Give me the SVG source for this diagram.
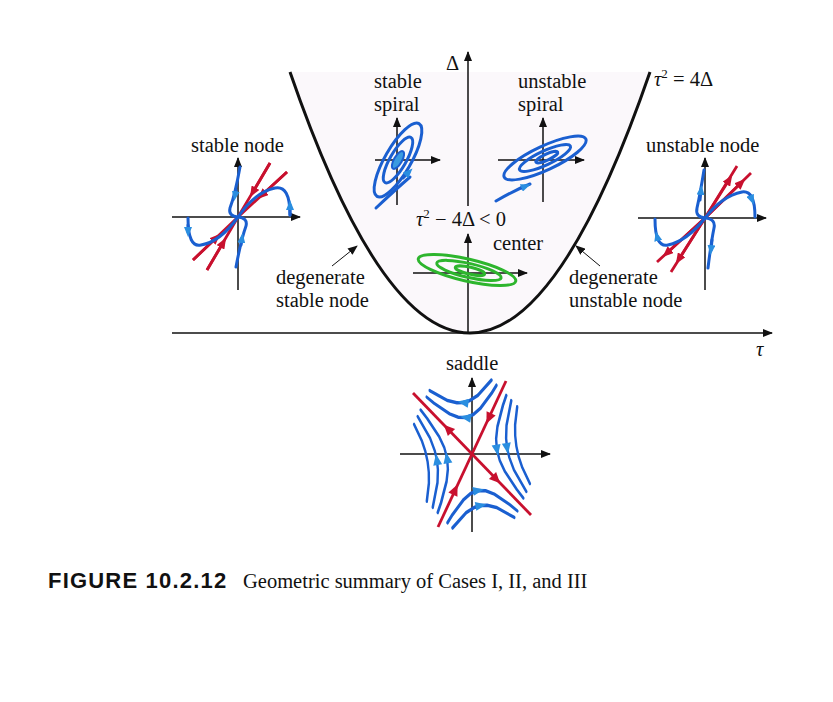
<svg xmlns="http://www.w3.org/2000/svg" width="833" height="702" viewBox="0 0 833 702">
<style>
.t{font-family:"Liberation Serif",serif;font-size:20.5px;fill:#111}
.ax{stroke:#111;stroke-width:1.5;fill:none}
.b{stroke:#1a5fd0;stroke-width:3;fill:none;stroke-linecap:round;stroke-linejoin:round}
.h{stroke:#1a5fd0;stroke-width:3;fill:none;stroke-linecap:round;stroke-linejoin:round;vector-effect:non-scaling-stroke}
.r{stroke:#c8102e;stroke-width:2.8;fill:none}
.g{stroke:#2db52d;stroke-width:3;fill:none}
</style>
<defs>
<marker id="ah" markerWidth="10" markerHeight="8" refX="9" refY="4" orient="auto" markerUnits="userSpaceOnUse"><path d="M0,0 L10,4 L0,8 Z" fill="#111"/></marker>
<marker id="rh" markerWidth="11" markerHeight="9" refX="5" refY="4.5" orient="auto" markerUnits="userSpaceOnUse"><path d="M0,0 L11,4.5 L0,9 Z" fill="#c8102e"/></marker>
<marker id="bh" markerWidth="10" markerHeight="8" refX="5" refY="4" orient="auto" markerUnits="userSpaceOnUse"><path d="M0,0 L10,4 L0,8 Z" fill="#2a8ee0"/></marker>
<path id="h500" d="M7.1,70 L8.3,60 L12.5,40 L16.7,30 L22.4,22.4 L30,16.7 L40,12.5 L60,8.3 L70,7.1"/>
<path id="h1000" d="M14.3,70 L20.8,48 L26.3,38 L31.6,31.6 L38,26.3 L48,20.8 L70,14.3"/>
<path id="h1600" d="M22.9,70 L29,55 L34,47 L40,40 L47,34 L55,29 L70,22.9"/>
<path id="bt" d="M6,0 L-5,-4.5 L-5,4.5 Z" fill="#2a8ee0"/>
<path id="rt" d="M6,0 L-5,-5 L-5,5 Z" fill="#c8102e"/>
</defs>
<rect width="833" height="702" fill="#fff"/>
<g id="plane">
<path d="M290,72 Q470,594 650,72 Z" fill="#fbf8fb"/>
<path d="M290,72 Q470,594 650,72" stroke="#111" stroke-width="3" fill="none"/>
<line class="ax" x1="172" y1="333" x2="772" y2="333" marker-end="url(#ah)"/>
<line class="ax" x1="468" y1="206" x2="468" y2="52" marker-end="url(#ah)"/>
<line class="ax" x1="468" y1="333" x2="468" y2="234" marker-end="url(#ah)"/>
<text class="t" x="446" y="70">Δ</text>
<text class="t" x="756" y="356" font-style="italic">τ</text>
<text class="t" x="654" y="86"><tspan font-style="italic">τ</tspan><tspan font-size="13" dy="-8">2</tspan><tspan dy="8"> = 4Δ</tspan></text>
<text class="t" x="416" y="226"><tspan font-style="italic">τ</tspan><tspan font-size="13" dy="-8">2</tspan><tspan dy="8"> − 4Δ &lt; 0</tspan></text>
</g>
<g id="stable-node">
<text class="t" x="191" y="152">stable node</text>
<line class="ax" x1="172" y1="217" x2="300" y2="217" marker-end="url(#ah)"/>
<line class="ax" x1="238" y1="290" x2="238" y2="158" marker-end="url(#ah)"/>
<path class="r" d="M193,260 L238,217 L287,172" />
<path class="r" d="M207,270 L238,217 L270,163" />
<path class="r" d="M287,172 L262,195" marker-end="url(#rh)"/>
<path class="r" d="M193,260 L216,238" marker-end="url(#rh)"/>
<path class="r" d="M270,163 L253,192" marker-end="url(#rh)"/>
<path class="r" d="M207,270 L223,243" marker-end="url(#rh)"/>
<path class="b" d="M290,215 Q290,185 275,188 Q255,192 238,217"/>
<path class="b" d="M240,167 Q235,195 230,208 Q228,216 238,217"/>
<path class="b" d="M188,218 Q188,248 201,245 Q220,242 238,217"/>
<path class="b" d="M236,267 Q241,240 246,226 Q248,218 238,217"/>
<path class="b" d="M290,215 L290,205" marker-end="url(#bh)"/>
<path class="b" d="M236,190 L235,196" marker-end="url(#bh)"/>
<path class="b" d="M188,225 L188,232" marker-end="url(#bh)"/>
<path class="b" d="M241,245 L242,238" marker-end="url(#bh)"/>
</g>
<g id="unstable-node">
<text class="t" x="646" y="152">unstable node</text>
<line class="ax" x1="638" y1="218" x2="766" y2="218" marker-end="url(#ah)"/>
<line class="ax" x1="705" y1="290" x2="705" y2="158" marker-end="url(#ah)"/>
<path class="r" d="M657,262 L705,218 L751,173"/>
<path class="r" d="M671,272 L705,218 L737,166"/>
<path class="r" d="M705,218 L741,183" marker-end="url(#rh)"/>
<path class="r" d="M705,218 L729,180" marker-end="url(#rh)"/>
<path class="r" d="M705,218 L667,253" marker-end="url(#rh)"/>
<path class="r" d="M705,218 L679,259" marker-end="url(#rh)"/>
<path class="b" d="M755,217 Q755,190 742,192 Q722,196 705,218"/>
<path class="b" d="M704,170 Q700,195 697,208 Q695,217 705,218"/>
<path class="b" d="M655,219 Q655,248 668,245 Q687,241 705,218"/>
<path class="b" d="M708,268 Q711,243 714,228 Q716,219 705,218"/>
<path class="b" d="M750,195 L752,200" marker-end="url(#bh)"/>
<path class="b" d="M700,200 L701,190" marker-end="url(#bh)"/>
<path class="b" d="M658,240 L657,236" marker-end="url(#bh)"/>
<path class="b" d="M712,240 L711,250" marker-end="url(#bh)"/>
</g>
<g id="stable-spiral">
<text class="t" x="374" y="88">stable</text>
<text class="t" x="374" y="111">spiral</text>
<line class="ax" x1="375" y1="160" x2="440" y2="160" marker-end="url(#ah)"/>
<line class="ax" x1="397" y1="205" x2="397" y2="118" marker-end="url(#ah)"/>
<g transform="translate(398,160) rotate(-60)">
<ellipse class="b" cx="0" cy="0" rx="42" ry="13"/>
<ellipse class="b" cx="0" cy="0" rx="26" ry="8"/>
<ellipse cx="0" cy="0" rx="10" ry="4" fill="#3a9be0" stroke="#1a5fd0" stroke-width="2"/>
</g>
<path class="b" d="M376,208 Q395,190 410,177"/>
<path class="b" d="M403,178 L409,172" marker-end="url(#bh)"/>
</g>
<g id="unstable-spiral">
<text class="t" x="518" y="88">unstable</text>
<text class="t" x="518" y="111">spiral</text>
<line class="ax" x1="498" y1="160" x2="584" y2="160" marker-end="url(#ah)"/>
<line class="ax" x1="543" y1="202" x2="543" y2="118" marker-end="url(#ah)"/>
<g transform="translate(545,158) rotate(-25)">
<ellipse class="b" cx="0" cy="0" rx="45" ry="12"/>
<ellipse class="b" cx="0" cy="0" rx="28" ry="7"/>
<ellipse class="b" cx="2" cy="0" rx="12" ry="3"/>
</g>
<path class="b" d="M496,201 Q515,190 530,184"/>
<path class="b" d="M521,188 L526,186" marker-end="url(#bh)"/>
</g>
<g id="center">
<text class="t" x="493" y="250">center</text>
<line class="ax" x1="413" y1="273" x2="527" y2="273" marker-end="url(#ah)"/>
<g transform="translate(467,270) rotate(13)">
<ellipse class="g" cx="0" cy="0" rx="50" ry="11"/>
<ellipse class="g" cx="2" cy="0" rx="33" ry="7"/>
<ellipse class="g" cx="3" cy="0" rx="15" ry="3.5"/>
</g>
</g>
<g id="degenerate-labels">
<text class="t" x="276" y="284">degenerate</text>
<text class="t" x="276" y="307">stable node</text>
<text class="t" x="569" y="284">degenerate</text>
<text class="t" x="569" y="307">unstable node</text>
</g>
<g id="connectors">
<line stroke="#111" stroke-width="1" x1="332" y1="266" x2="357" y2="246" marker-end="url(#ah)"/>
<line stroke="#111" stroke-width="1" x1="600" y1="266" x2="576" y2="246" marker-end="url(#ah)"/>
</g>
<g id="saddle">
<text class="t" x="446" y="370">saddle</text>
<line class="ax" x1="400" y1="454" x2="550" y2="454" marker-end="url(#ah)"/>
<line class="ax" x1="472" y1="532" x2="472" y2="378" marker-end="url(#ah)"/>
<g transform="matrix(0.69,0.72,0.42,-0.91,472,454)">
<use href="#h500" class="h"/><use href="#h1000" class="h"/><use href="#h1600" class="h"/>
</g>
<g transform="matrix(-0.69,-0.72,0.42,-0.91,472,454)">
<use href="#h500" class="h"/><use href="#h1000" class="h"/>
</g>
<g transform="matrix(-0.69,-0.72,-0.42,0.91,472,454)">
<use href="#h500" class="h"/><use href="#h1000" class="h"/><use href="#h1600" class="h"/>
</g>
<g transform="matrix(0.69,0.72,-0.42,0.91,472,454)">
<use href="#h500" class="h"/><use href="#h1000" class="h"/>
</g>
<use href="#bt" transform="translate(496.9,449.7) rotate(80.6)"/>
<use href="#bt" transform="translate(507.1,448) rotate(80.6)"/>
<use href="#bt" transform="translate(466,417.5) rotate(189.7)"/>
<use href="#bt" transform="translate(463.5,402.5) rotate(189.7)"/>
<use href="#bt" transform="translate(447.1,458.3) rotate(-99.4)"/>
<use href="#bt" transform="translate(436.9,460) rotate(-99.4)"/>
<use href="#bt" transform="translate(478,490.5) rotate(-9.7)"/>
<use href="#bt" transform="translate(480.5,505.5) rotate(-9.7)"/>
<path class="r" d="M413,393 L531,515"/>
<path class="r" d="M506,381 L438,527"/>
<use href="#rt" transform="translate(496,479) rotate(46)"/>
<use href="#rt" transform="translate(448,429) rotate(226)"/>
<use href="#rt" transform="translate(489,418) rotate(115)"/>
<use href="#rt" transform="translate(455,490) rotate(-65)"/>
</g>
<g id="caption">
<text x="48" y="588" font-family="Liberation Sans,sans-serif" font-weight="bold" font-size="22" letter-spacing="1.2" fill="#111">FIGURE 10.2.12</text>
<text class="t" x="243" y="588" font-size="21">Geometric summary of Cases I, II, and III</text>
</g>
</svg>
